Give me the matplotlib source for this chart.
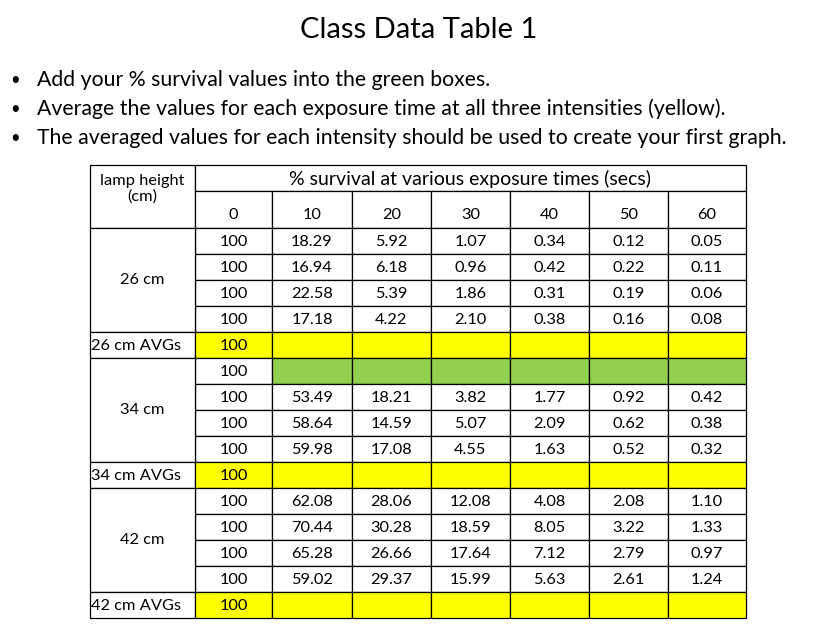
import matplotlib.pyplot as plt
from matplotlib.patches import Rectangle

plt.rcParams['font.family'] = ['Lato', 'DejaVu Sans']

title = 'Class Data Table 1'
bullets = ['Add your % survival values into the green boxes.',
           'Average the values for each exposure time at all three intensities (yellow).',
           'The averaged values for each intensity should be used to create your first graph.']
times = ['0', '10', '20', '30', '40', '50', '60']
h26 = [['100', '18.29', '5.92', '1.07', '0.34', '0.12', '0.05'],
       ['100', '16.94', '6.18', '0.96', '0.42', '0.22', '0.11'],
       ['100', '22.58', '5.39', '1.86', '0.31', '0.19', '0.06'],
       ['100', '17.18', '4.22', '2.10', '0.38', '0.16', '0.08']]
h34 = [['100', '', '', '', '', '', ''],
       ['100', '53.49', '18.21', '3.82', '1.77', '0.92', '0.42'],
       ['100', '58.64', '14.59', '5.07', '2.09', '0.62', '0.38'],
       ['100', '59.98', '17.08', '4.55', '1.63', '0.52', '0.32']]
h42 = [['100', '62.08', '28.06', '12.08', '4.08', '2.08', '1.10'],
       ['100', '70.44', '30.28', '18.59', '8.05', '3.22', '1.33'],
       ['100', '65.28', '26.66', '17.64', '7.12', '2.79', '0.97'],
       ['100', '59.02', '29.37', '15.99', '5.63', '2.61', '1.24']]
groups = [('26 cm', h26), ('34 cm', h34), ('42 cm', h42)]

fig = plt.figure(figsize=(8.37, 6.33), dpi=100)
ax = fig.add_axes([0, 0, 1, 1])
ax.set_xlim(0, 837); ax.set_ylim(633, 0); ax.axis('off')

ax.text(419, 30, title, ha='center', va='center', fontsize=21)
for i, b in enumerate(bullets):
    y = 80 + i * 29
    ax.text(10, y, '•', ha='left', va='center', fontsize=12)
    ax.text(37, y, b, ha='left', va='center', fontsize=15.3)

xs = [90, 195, 272, 352, 431, 510, 589, 668, 746]
YEL, GRN = '#FFFF00', '#92D050'
lw = 0.9
fs = 11.8

def cell(x0, x1, y0, y1, color='white'):
    ax.add_patch(Rectangle((x0, y0), x1 - x0, y1 - y0, facecolor=color,
                           edgecolor='black', lw=lw))

def num(col, y, s):
    ax.text((xs[col + 1] + xs[col + 2]) / 2, y, s, ha='center', va='center', fontsize=fs)

# header
cell(xs[0], xs[1], 165, 228)
ax.text((xs[0] + xs[1]) / 2, 189, 'lamp height\n(cm)', ha='center', va='center',
        fontsize=fs, linespacing=1.1)
cell(xs[1], xs[-1], 165, 191)
ax.text(470, 179, '% survival at various exposure times (secs)', ha='center',
        va='center', fontsize=14)
for c, t in enumerate(times):
    cell(xs[c + 1], xs[c + 2], 191, 228)
    num(c, 215, t)

y = 228
rh = 26
for name, rows in groups:
    top = y
    for r, row in enumerate(rows):
        for c, v in enumerate(row):
            color = GRN if (v == '' and c > 0) else 'white'
            cell(xs[c + 1], xs[c + 2], y, y + rh, color)
            num(c, y + rh / 2 + 1, v)
        y += rh
    cell(xs[0], xs[1], top, y)
    ax.text((xs[0] + xs[1]) / 2, (top + y) / 2, name, ha='center', va='center', fontsize=fs)
    cell(xs[0], xs[1], y, y + rh)
    ax.text(xs[0] + 1, y + rh / 2 + 1, name + ' AVGs', ha='left', va='center', fontsize=fs)
    for c in range(7):
        cell(xs[c + 1], xs[c + 2], y, y + rh, YEL)
    num(0, y + rh / 2 + 1, '100')
    y += rh

fig.savefig('out.png', dpi=100)
